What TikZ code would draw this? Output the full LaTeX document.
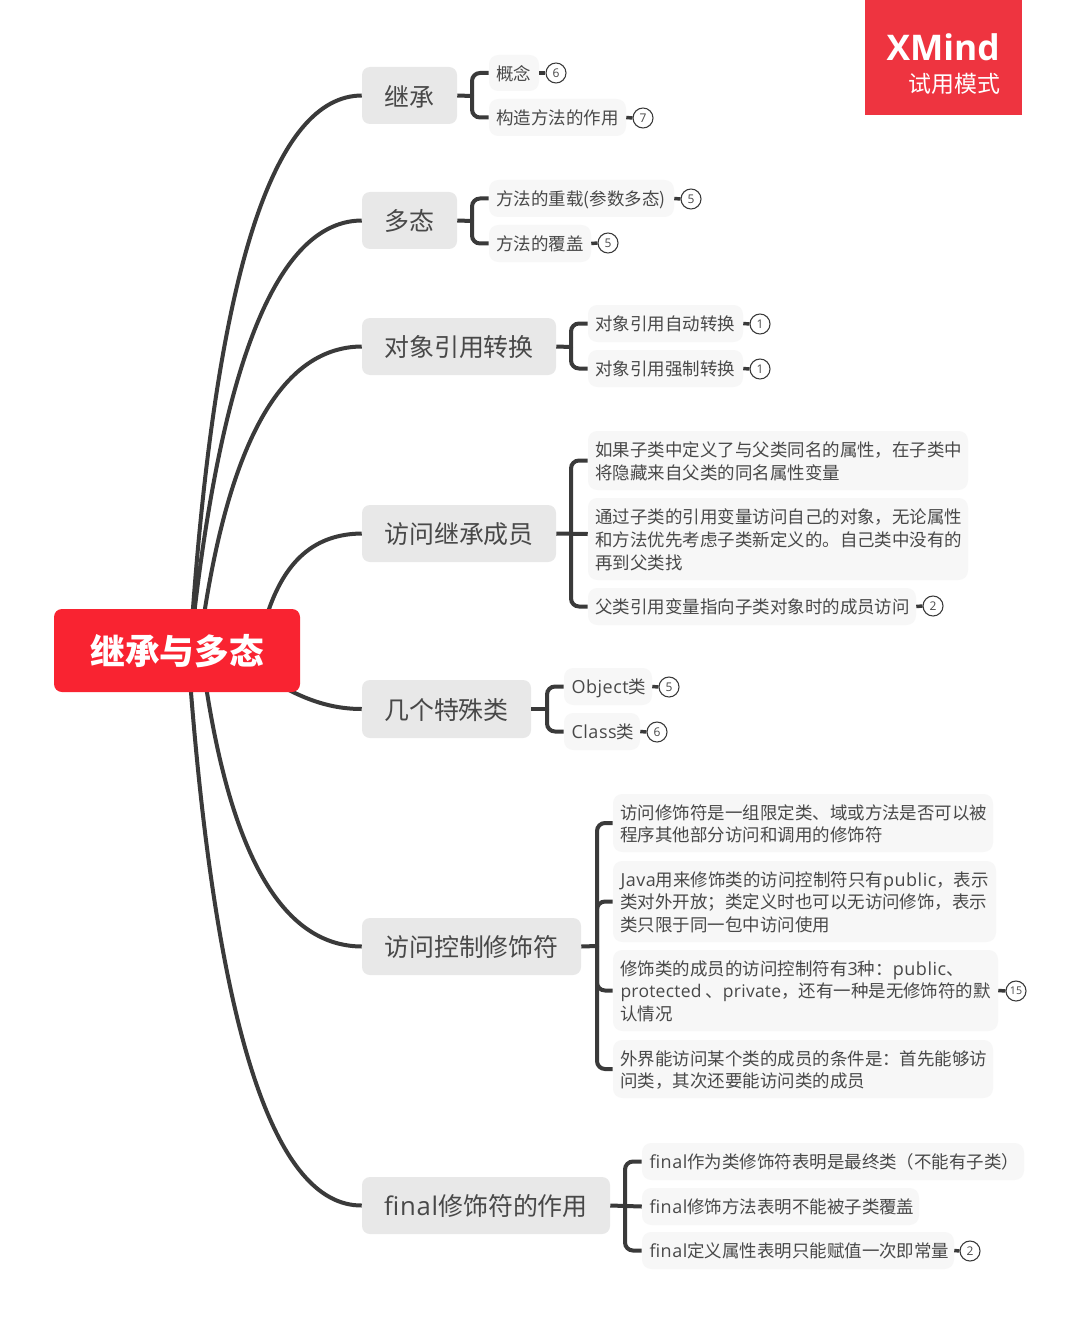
\documentclass[tikz,border=0pt]{standalone}
\usepackage{fontspec}
\setmainfont{Noto Sans CJK SC}
\newfontfamily\latf[Scale=1.03,LetterSpace=3]{Open Sans}
\newfontfamily\latn[Scale=1.0,LetterSpace=1.5]{Open Sans}
\newfontfamily\badgef{Open Sans}
\newcommand{\lf}[1]{{\latf #1}}
\newcommand{\lfn}[1]{{\latn #1}}
\usetikzlibrary{backgrounds}
\definecolor{ink}{HTML}{3A3A3A}
\definecolor{txt}{HTML}{484848}
\definecolor{mainfill}{HTML}{E8E8E8}
\definecolor{subfill}{HTML}{F7F7F7}
\definecolor{rootred}{HTML}{F92331}
\definecolor{badge}{HTML}{EE3440}
\tikzset{
  topic/.style={rectangle,rounded corners=6pt,inner sep=0pt,text=txt},
  maint/.style={topic,fill=mainfill,font=\fontsize{18.7pt}{23pt}\selectfont},
  subt/.style={topic,rounded corners=7pt,fill=subfill,font=\fontsize{13.1pt}{17pt}\selectfont},
  roott/.style={topic,fill=rootred,text=white,font=\fontsize{26pt}{30pt}\selectfont\bfseries},
  curve/.style={draw=ink,line width=3pt},
  brace/.style={draw=ink,line width=3pt,rounded corners=6pt},
  stub/.style={draw=ink,line width=2.6pt},
  marker/.style={circle,draw=ink,fill=white,line width=0.8pt,minimum size=15pt,inner sep=0pt,text=txt,font=\badgef\fontsize{9pt}{10pt}\selectfont},
}
% box given by its corners, in pixels
\newcommand{\mainbox}[6]{%
  \pgfmathsetmacro{\cx}{(#2+#4)/2}\pgfmathsetmacro{\cy}{(#3+#5)/2}%
  \pgfmathsetmacro{\bw}{(#4-#2)*0.75}\pgfmathsetmacro{\bh}{(#5-#3)*0.75}%
  \node[maint,minimum width=\bw pt,minimum height=\bh pt] (#1) at (\cx,\cy) {\raisebox{-0.75pt}[\height][\depth]{#6}};}
\newcommand{\subbox}[6]{%
  \pgfmathsetmacro{\cx}{(#2+#4)/2}\pgfmathsetmacro{\cy}{(#3+#5)/2}%
  \pgfmathsetmacro{\bw}{(#4-#2)*0.75}\pgfmathsetmacro{\bh}{(#5-#3)*0.75}%
  \pgfmathsetmacro{\tw}{(#4-#2-15)*0.75}%
  \node[subt,minimum width=\bw pt,minimum height=\bh pt] (#1) at (\cx,\cy) {\raisebox{-2.1pt}[\height][\depth]{\parbox[c]{\tw pt}{\raggedright\strut #6\strut}}};}
\begin{document}
\begin{tikzpicture}[x=0.75pt,y=-0.75pt]
\useasboundingbox (0,0) rectangle (1080,1323);

% badge
\node[rectangle,fill=badge,minimum width=117.75pt,minimum height=86.25pt,inner sep=0pt] (badgebox) at (943.5,57.5) {};
\node[anchor=east,inner sep=0pt,text=white,font=\badgef\fontsize{26.5pt}{30pt}\selectfont\bfseries] (badgea) at (1000,47.5) {XMind};
\node[anchor=east,inner sep=0pt,text=white,font=\fontsize{17.2pt}{20pt}\selectfont] (badgeb) at (1000.5,84) {试用模式};

% root
\node[roott,minimum width=184.5pt,minimum height=62.25pt] (root) at (177,650.5) {\raisebox{-0.75pt}[\height][\depth]{继承与多态}};

% main topics
\mainbox{m1}{362}{67}{457}{124}{继承}
\mainbox{m2}{362}{192}{457}{249}{多态}
\mainbox{m3}{362}{318}{556}{375}{对象引用转换}
\mainbox{m4}{362}{505}{556}{562}{访问继承成员}
\mainbox{m5}{362}{680}{531}{738}{几个特殊类}
\mainbox{m6}{362}{918}{581}{975}{访问控制修饰符}
\mainbox{m7}{362}{1177}{610}{1234}{\lf{final}修饰符的作用}

% sub topics
\subbox{a1}{489}{55}{539}{91}{\mbox{概念}}
\subbox{a2}{489}{99}{626}{136}{\mbox{构造方法的作用}}
\subbox{b1}{489}{180}{674}{217}{\mbox{方法的重载(参数多态)}}
\subbox{b2}{489}{225}{591}{262}{\mbox{方法的覆盖}}
\subbox{c1}{588}{305}{743}{342}{\mbox{对象引用自动转换}}
\subbox{c2}{588}{350}{743}{387}{\mbox{对象引用强制转换}}
\subbox{d1}{588}{431}{968}{490}{\mbox{如果子类中定义了与父类同名的属性，在子类中}\\\mbox{将隐藏来自父类的同名属性变量}}
\subbox{d2}{588}{498}{968}{580}{\mbox{通过子类的引用变量访问自己的对象，无论属性}\\\mbox{和方法优先考虑子类新定义的。自己类中没有的}\\\mbox{再到父类找}}
\subbox{d3}{588}{588}{916}{625}{\mbox{父类引用变量指向子类对象时的成员访问}}
\subbox{e1}{564}{668}{652}{705}{\mbox{\lf{Object}类}}
\subbox{e2}{564}{713}{640}{750}{\mbox{\lf{Class}类}}
\subbox{f1}{613}{794}{993}{852}{\mbox{访问修饰符是一组限定类、域或方法是否可以被}\\\mbox{程序其他部分访问和调用的修饰符}}
\subbox{f2}{613}{861}{996}{942}{\mbox{\lf{Java}用来修饰类的访问控制符只有\lf{public}，表示}\\\mbox{类对外开放；类定义时也可以无访问修饰，表示}\\\mbox{类只限于同一包中访问使用}}
\subbox{f3}{613}{950}{998}{1031}{\mbox{修饰类的成员的访问控制符有\lf{3}种：\lf{public}、}\\\mbox{\lfn{protected} 、\lfn{private}，还有一种是无修饰符的默}\\\mbox{认情况}}
\subbox{f4}{613}{1040}{993}{1098}{\mbox{外界能访问某个类的成员的条件是：首先能够访}\\\mbox{问类，其次还要能访问类的成员}}
\subbox{g1}{642}{1143}{1024}{1180}{\mbox{\lf{final}作为类修饰符表明是最终类（不能有子类）}}
\subbox{g2}{642}{1188}{919}{1225}{\mbox{\lf{final}修饰方法表明不能被子类覆盖}}
\subbox{g3}{642}{1232}{954}{1269}{\mbox{\lf{final}定义属性表明只能赋值一次即常量}}

% markers
\node[marker] (ma1) at (556,73) {6};
\node[marker] (ma2) at (643,118) {7};
\node[marker] (mb1) at (691,199) {5};
\node[marker] (mb2) at (608,243) {5};
\node[marker] (mc1) at (760,324) {1};
\node[marker] (mc2) at (760,369) {1};
\node[marker] (md3) at (933,606) {2};
\node[marker] (me1) at (669,687) {5};
\node[marker] (me2) at (657,732) {6};
\node[marker,font=\badgef\fontsize{8pt}{9pt}\selectfont] (mf3) at (1016,991) {15};
\node[marker] (mg3) at (970,1251) {2};

% trunks
\coordinate (ta) at (472,96);
\coordinate (tb) at (472,221);
\coordinate (tc) at (571,347);
\coordinate (td) at (571,534);
\coordinate (te) at (547,709);
\coordinate (tf) at (597,946);
\coordinate (tg) at (625,1206);

\begin{scope}[on background layer]
  \fill[white] (0,0) rectangle (1080,1323);
  \coordinate (r1) at (192.5,615);
  \coordinate (r2) at (194,615);
  \coordinate (r3) at (204,615);
  \coordinate (r4) at (267,615);
  \coordinate (r5) at (285,688);
  \coordinate (r6) at (206,686);
  \coordinate (r7) at (190.5,686);
  \draw[curve] (r1) .. controls (218,266) and (275,96) .. (m1.west);
  \draw[curve] (r2) .. controls (225,350) and (281,221) .. (m2.west);
  \draw[curve] (r3) .. controls (232,434) and (285,347) .. (m3.west);
  \draw[curve] (r4) .. controls (285,559) and (316,534) .. (m4.west);
  \draw[curve] (r5) .. controls (313,703) and (337,709) .. (m5.west);
  \draw[curve] (r6) .. controls (233,861) and (285,946) .. (m6.west);
  \draw[curve] (r7) .. controls (218,1035) and (275,1206) .. (m7.west);
\end{scope}

% braces
\draw[curve] (m1.east) -- (ta);
\draw[brace] (ta) |- (a1.west);
\draw[brace] (ta) |- (a2.west);
\draw[curve] (m2.east) -- (tb);
\draw[brace] (tb) |- (b1.west);
\draw[brace] (tb) |- (b2.west);
\draw[curve] (m3.east) -- (tc);
\draw[brace] (tc) |- (c1.west);
\draw[brace] (tc) |- (c2.west);
\draw[curve] (m4.east) -- (td -| d2.west);
\draw[brace] (td) |- (d1.west);
\draw[brace] (td) |- (d3.west);
\draw[curve] (m5.east) -- (te);
\draw[brace] (te) |- (e1.west);
\draw[brace] (te) |- (e2.west);
\draw[curve] (m6.east) -- (tf);
\draw[brace] (tf) |- (f1.west);
\draw[brace] (tf) |- (f2.west);
\draw[brace] (tf) |- (f3.west);
\draw[brace] (tf) |- (f4.west);
\draw[curve] (m7.east) -- (g2.west);
\draw[brace] (tg) |- (g1.west);
\draw[brace] (tg) |- (g3.west);

% marker stubs
\foreach \s/\m in {a1/ma1,a2/ma2,b1/mb1,b2/mb2,c1/mc1,c2/mc2,d3/md3,e1/me1,e2/me2,f3/mf3,g3/mg3}
  \draw[stub] (\s.east) -- (\m.west);
\end{tikzpicture}
\end{document}
